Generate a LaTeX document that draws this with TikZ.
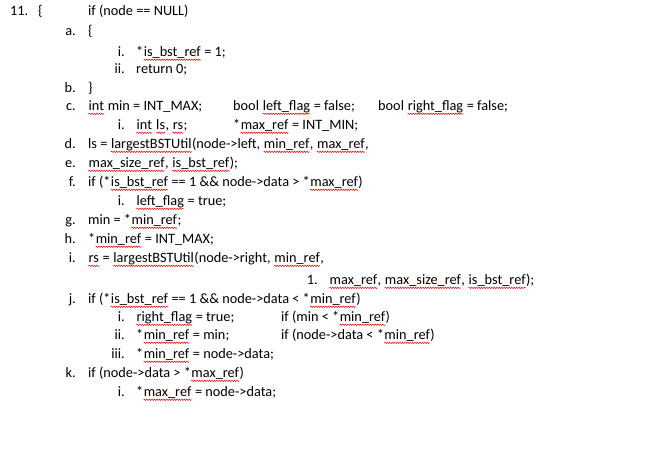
\documentclass[tikz,border=0pt]{standalone}
\usepackage{fontspec}
\setmainfont{Carlito}
\usetikzlibrary{decorations.pathmorphing}
\newcommand{\sq}[1]{\tikz[baseline=(w.base)]{\node[inner sep=0pt,anchor=base](w){\strut #1};\draw[red,line width=0.5pt,decorate,decoration={snake,amplitude=0.7pt,segment length=2.5pt}]([yshift=1.5pt]w.south west)--([yshift=1.5pt]w.south east);}}
\begin{document}
\begin{tikzpicture}[x=1pt,y=-1pt,font=\fontsize{14.3}{17}\selectfont,
  txt/.style={anchor=base west,inner sep=0pt},
  lbl/.style={anchor=base east,inner sep=0pt}]
\useasboundingbox[fill=white] (0,0) rectangle (654,451);
\node[txt] (n11) at (10,15) {11.};
\node[txt] (t0) at (38,15) {\{};
\node[txt] (t0b) at (88,15) {if (node == NULL)};
\node[lbl] (la) at (76,35) {a.};
\node[txt] (ta) at (88,35) {\{};
\node[lbl] (lai) at (125,56) {i.};
\node[txt] (tai) at (136,56) {*\sq{is\_bst\_ref} = 1;};
\node[lbl] (laii) at (125,73) {ii.};
\node[txt] (taii) at (136,73) {return 0;};
\node[lbl] (lb) at (76,92) {b.};
\node[txt] (tb) at (88,92) {\}};
\node[lbl] (lc) at (76,110) {c.};
\node[txt] (tc) at (88,110) {\sq{int} min = INT\_MAX;};
\node[txt] (tc2) at (233,110) {bool \sq{left\_flag} = false;};
\node[txt] (tc3) at (378,110) {bool \sq{right\_flag} = false;};
\node[lbl] (lci) at (125,129) {i.};
\node[txt] (tci) at (136,129) {\sq{int} \sq{ls}, \sq{rs};};
\node[txt] (tci2) at (233,129) {*\sq{max\_ref} = INT\_MIN;};
\node[lbl] (ld) at (76,148) {d.};
\node[txt] (td) at (88,148) {ls = \sq{largestBSTUtil}(node->left, \sq{min\_ref}, \sq{max\_ref},};
\node[lbl] (le) at (76,167) {e.};
\node[txt] (te) at (88,167) {\sq{max\_size\_ref}, \sq{is\_bst\_ref});};
\node[lbl] (lf) at (76,186) {f.};
\node[txt] (tf) at (88,186) {if (*\sq{is\_bst\_ref} == 1 \&\& node->data > *\sq{max\_ref})};
\node[lbl] (lfi) at (125,205) {i.};
\node[txt] (tfi) at (136,205) {\sq{left\_flag} = true;};
\node[lbl] (lg) at (76,224) {g.};
\node[txt] (tg) at (88,224) {min = *\sq{min\_ref};};
\node[lbl] (lh) at (76,243) {h.};
\node[txt] (th) at (88,243) {*\sq{min\_ref} = INT\_MAX;};
\node[lbl] (li) at (76,262) {i.};
\node[txt] (ti) at (88,262) {\sq{rs} = \sq{largestBSTUtil}(node->right, \sq{min\_ref},};
\node[lbl] (l1) at (318,284) {1.};
\node[txt] (t1) at (329,284) {\sq{max\_ref}, \sq{max\_size\_ref}, \sq{is\_bst\_ref});};
\draw (n11.south) ++(318,0); 
\node[lbl] (lj) at (76,303) {j.};
\node[txt] (tj) at (88,303) {if (*\sq{is\_bst\_ref} == 1 \&\& node->data < *\sq{min\_ref})};
\node[lbl] (lji) at (125,321) {i.};
\node[txt] (tji) at (136,321) {\sq{right\_flag} = true;};
\node[txt] (tji2) at (281,321) {if (min < *\sq{min\_ref})};
\node[lbl] (ljii) at (125,339) {ii.};
\node[txt] (tjii) at (136,339) {*\sq{min\_ref} = min;};
\node[txt] (tjii2) at (281,339) {if (node->data < *\sq{min\_ref})};
\node[lbl] (ljiii) at (125,358) {iii.};
\node[txt] (tjiii) at (136,358) {*\sq{min\_ref} = node->data;};
\node[lbl] (lk) at (76,377) {k.};
\node[txt] (tk) at (88,377) {if (node->data > *\sq{max\_ref})};
\node[lbl] (lki) at (125,396) {i.};
\node[txt] (tki) at (136,396) {*\sq{max\_ref} = node->data;};
\end{tikzpicture}
\end{document}
